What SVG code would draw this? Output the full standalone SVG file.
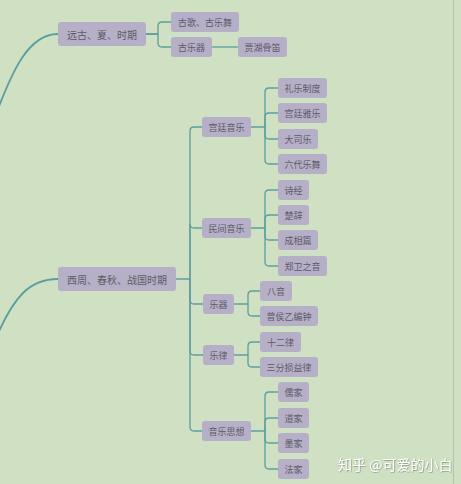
<svg xmlns="http://www.w3.org/2000/svg" width="461" height="484" viewBox="0 0 461 484">
<defs>
<style>
.n rect{fill:#b6afc8;rx:3;ry:3}
.n text{font-family:"Noto Sans CJK SC","Noto Sans",sans-serif;font-size:9px;fill:#5e5a66;text-anchor:middle;dominant-baseline:central}
.n.l1 text{font-size:10px}
.c path{fill:none;stroke:#5c9ea0;stroke-width:1.3}
.c path.m{stroke-width:1.8}
.wm{font-family:"Noto Sans CJK SC","Noto Sans",sans-serif;font-size:14px;fill:#ffffff}
</style>
<filter id="sh" x="-10%" y="-30%" width="130%" height="160%"><feDropShadow dx="0.6" dy="0.6" stdDeviation="0.6" flood-color="#6a7a60" flood-opacity="0.8"/></filter>
</defs>
<rect width="461" height="484" fill="#cfe0c3"/>
<line x1="453.5" y1="0" x2="453.5" y2="484" stroke="#b4c4aa" stroke-width="1"/>
<g class="c">
<path class="m" d="M-4 114 C12 72 28 34 58 34"/>
<path class="m" d="M-4 338 C14 296 30 279 58 279"/>
<path d="M146 34 H158 V26 Q158 22 162 22 H171"/>
<path d="M146 34 H158 V43 Q158 47 162 47 H171"/>
<path d="M212 47 H238"/>
<path d="M176 279 H190 V131 Q190 127 194 127 H202"/>
<path d="M190 279 V224 Q190 228 194 228 H202"/>
<path d="M190 279 V300 Q190 304 194 304 H203"/>
<path d="M190 279 V351 Q190 355 194 355 H203"/>
<path d="M190 279 V427 Q190 431 194 431 H202"/>
<path d="M251 127 H265 V92 Q265 88 269 88 H278"/>
<path d="M265 127 V117 Q265 113 269 113 H278"/>
<path d="M265 127 V135 Q265 139 269 139 H278"/>
<path d="M265 127 V160 Q265 164 269 164 H278"/>
<path d="M251 228 H265 V194 Q265 190 269 190 H278"/>
<path d="M265 228 V219 Q265 215 269 215 H278"/>
<path d="M265 228 V236 Q265 240 269 240 H278"/>
<path d="M265 228 V262 Q265 266 269 266 H278"/>
<path d="M234 304 H248 V295 Q248 291 252 291 H260"/>
<path d="M248 304 V312 Q248 316 252 316 H260"/>
<path d="M234 355 H248 V346 Q248 342 252 342 H260"/>
<path d="M248 355 V363 Q248 367 252 367 H260"/>
<path d="M251 431 H265 V396 Q265 392 269 392 H278"/>
<path d="M265 431 V422 Q265 418 269 418 H278"/>
<path d="M265 431 V439 Q265 443 269 443 H278"/>
<path d="M265 431 V465 Q265 469 269 469 H278"/>
</g>
<g id="n-yuangu" class="n l1"><rect x="58" y="22" width="88" height="24"/><text x="102" y="34">远古、夏、时期</text></g>
<g id="n-guge" class="n"><rect x="171" y="12" width="68" height="20"/><text x="205" y="22">古歌、古乐舞</text></g>
<g id="n-guyueqi" class="n"><rect x="171" y="37" width="41" height="20"/><text x="191.5" y="47">古乐器</text></g>
<g id="n-jiahu" class="n"><rect x="238" y="37" width="49" height="20"/><text x="262.5" y="47">贾湖骨笛</text></g>
<g id="n-xizhou" class="n l1"><rect x="58" y="267" width="118" height="24"/><text x="117" y="279">西周、春秋、战国时期</text></g>
<g id="n-gongting" class="n"><rect x="202" y="117" width="49" height="20"/><text x="226.5" y="127">宫廷音乐</text></g>
<g id="n-minjian" class="n"><rect x="202" y="218" width="49" height="20"/><text x="226.5" y="228">民间音乐</text></g>
<g id="n-yueqi" class="n"><rect x="203" y="294" width="31" height="20"/><text x="218.5" y="304">乐器</text></g>
<g id="n-yuelv" class="n"><rect x="203" y="345" width="31" height="20"/><text x="218.5" y="355">乐律</text></g>
<g id="n-sixiang" class="n"><rect x="202" y="421" width="49" height="20"/><text x="226.5" y="431">音乐思想</text></g>
<g id="n-liyue" class="n"><rect x="278" y="78" width="49" height="20"/><text x="302.5" y="88">礼乐制度</text></g>
<g id="n-yayue" class="n"><rect x="278" y="103" width="49" height="20"/><text x="302.5" y="113">宫廷雅乐</text></g>
<g id="n-dasiyue" class="n"><rect x="278" y="129" width="40" height="20"/><text x="298" y="139">大司乐</text></g>
<g id="n-liudai" class="n"><rect x="278" y="154" width="49" height="20"/><text x="302.5" y="164">六代乐舞</text></g>
<g id="n-shijing" class="n"><rect x="278" y="180" width="31" height="20"/><text x="293.5" y="190">诗经</text></g>
<g id="n-chuci" class="n"><rect x="278" y="205" width="31" height="20"/><text x="293.5" y="215">楚辞</text></g>
<g id="n-chengxiang" class="n"><rect x="278" y="230" width="40" height="20"/><text x="298" y="240">成相篇</text></g>
<g id="n-zhengwei" class="n"><rect x="278" y="256" width="49" height="20"/><text x="302.5" y="266">郑卫之音</text></g>
<g id="n-bayin" class="n"><rect x="260" y="281" width="32" height="20"/><text x="276" y="291">八音</text></g>
<g id="n-zenghouyi" class="n"><rect x="260" y="306" width="58" height="20"/><text x="289" y="316">曾侯乙编钟</text></g>
<g id="n-shierlv" class="n"><rect x="260" y="332" width="41" height="20"/><text x="280.5" y="342">十二律</text></g>
<g id="n-sanfen" class="n"><rect x="260" y="357" width="58" height="20"/><text x="289" y="367">三分损益律</text></g>
<g id="n-rujia" class="n"><rect x="278" y="382" width="31" height="20"/><text x="293.5" y="392">儒家</text></g>
<g id="n-daojia" class="n"><rect x="278" y="408" width="31" height="20"/><text x="293.5" y="418">道家</text></g>
<g id="n-mojia" class="n"><rect x="278" y="433" width="31" height="20"/><text x="293.5" y="443">墨家</text></g>
<g id="n-fajia" class="n"><rect x="278" y="459" width="31" height="20"/><text x="293.5" y="469">法家</text></g>
<text class="wm" x="338" y="470" filter="url(#sh)">知乎 @可爱的小白</text>
</svg>
